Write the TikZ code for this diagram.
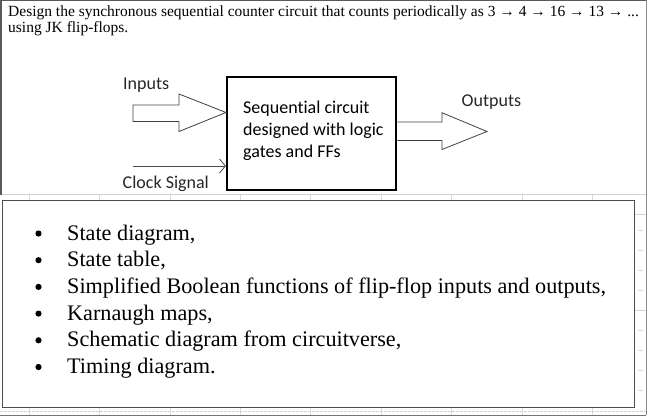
\documentclass[tikz,border=0pt]{standalone}
\usepackage{fontspec}
\setmainfont{Liberation Serif}
\newfontfamily\calib[Ligatures=NoCommon]{Carlito}
\usetikzlibrary{arrows.meta}
\begin{document}
\begin{tikzpicture}[x=1pt,y=-1pt,
  frame/.style={draw=black!65, line width=1.3pt},
  gridline/.style={draw=black!18, line width=0.6pt},
  gridtick/.style={draw=black!15, line width=0.5pt},
  blockarrow/.style={draw=black!75, line width=0.8pt, fill=white},
  lbl/.style={font=\calib\fontsize{18}{20}\selectfont, text=black!85, inner sep=0pt, anchor=base west},
  boxtxt/.style={font=\calib\fontsize{18}{20}\selectfont, inner sep=0pt, anchor=base west},
  ttl/.style={font=\fontsize{15.5}{17}\selectfont, inner sep=0pt, anchor=base west},
  itemtxt/.style={font=\fontsize{22.2}{26}\selectfont, inner sep=0pt, anchor=base west},
  bul/.style={circle, fill=black, inner sep=0pt, minimum size=6.2pt}
]
\useasboundingbox (0,0) rectangle (647,415);
% faint spreadsheet grid
\foreach \gx in {29,99.4,169.8,240.2,310.6,381,451.4,521.8,592.2} {
  \draw[gridtick] (\gx,194.5) -- (\gx,200);
  \draw[gridtick] (\gx,407.5) -- (\gx,415);
}
\draw[gridline] (0,194.5) -- (646,194.5);
\draw[gridline, dashed, dash pattern=on 3pt off 1pt] (0,411.5) -- (646,411.5);
\draw[gridline] (634,214) -- (646,214);
\draw[gridline] (634,310) -- (646,310);
\foreach \gy in {230,250,270,290,330,350,370,390} {
  \draw[gridtick] (638,\gy) -- (643,\gy);
}
\draw[draw=black!45, line width=1pt] (646,0) -- (646,415);
\draw[draw=black!55, line width=1pt] (0,415) -- (646,415);
% top frame
\draw[frame] (1,0) -- (646,0);
\draw[frame] (1,0) -- (1,194.5);
% title
\node[ttl] (t1) at (8,16.5) {Design the synchronous sequential counter circuit that counts periodically as 3 → 4 → 16 → 13 → ...};
\node[ttl] (t2) at (8,32) {using JK flip-flops.};
% main block
\node[draw=black, line width=2.3pt, minimum width=169pt, minimum height=113pt, anchor=north west, inner sep=0pt] (box) at (226,76) {};
\node[boxtxt] (s1) at (243,113.5) {Sequential circuit};
\node[boxtxt] (s2) at (243,135.5) {designed with logic};
\node[boxtxt] (s3) at (243,157.5) {gates and FFs};
% inputs arrow
\coordinate (intip) at (box.west |- 0,112.5);
\draw[blockarrow] (133,105) -- (179,105) -- (179,94) -- (intip) -- (179,131.5) -- (179,121.5) -- (133,121.5) -- cycle;
\node[lbl] (inl) at (123,89.3) {Inputs};
% clock
\coordinate (clk) at (133,166);
\draw[draw=black!70, line width=0.8pt, -{Straight Barb[length=6pt,width=14pt,line width=0.8pt]}] (clk) -- (clk -| box.west);
\node[lbl] (clkl) at (122.5,188.3) {Clock Signal};
% outputs arrow
\coordinate (outtip) at (487,131.5);
\draw[blockarrow] (box.east |- 0,122) -- (442,122) -- (442,112.7) -- (outtip) -- (442,149.5) -- (442,140.5) -- (box.east |- 0,140.5);
\node[lbl] (outl) at (461.5,106.7) {Outputs};
% lower box
\node[draw=black!70, line width=1.3pt, minimum width=632pt, minimum height=207pt, anchor=north west, inner sep=0pt] (list) at (2,200) {};
\foreach \i/\t in {1/{State diagram,},2/{State table,},3/{Simplified Boolean functions of flip-flop inputs and outputs,},4/{Karnaugh maps,},5/{Schematic diagram from circuitverse,},6/{Timing diagram.}} {
  \node[itemtxt] (it\i) at (67,{240+26.7*(\i-1)}) {\t};
  \node[bul] (b\i) at (38.5,{240+26.7*(\i-1)-6.5}) {};
}
\end{tikzpicture}
\end{document}
